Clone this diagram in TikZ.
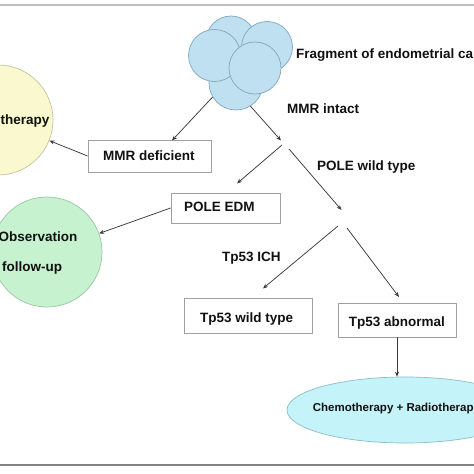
\documentclass[tikz,border=0pt]{standalone}
\usepackage{fontspec}
\setmainfont{Liberation Sans}
\usetikzlibrary{shapes.geometric,arrows.meta,calc}
\definecolor{cellfill}{HTML}{BFE0F0}
\definecolor{celldraw}{HTML}{7FA6C0}
\definecolor{yelfill}{HTML}{FAF8CE}
\definecolor{yeldraw}{HTML}{C4C49A}
\definecolor{grnfill}{HTML}{C6F2D0}
\definecolor{grndraw}{HTML}{98C6A4}
\definecolor{cyfill}{HTML}{C4F3F9}
\definecolor{cydraw}{HTML}{8CBEC6}
\definecolor{boxdraw}{HTML}{A0A0A0}
\definecolor{arrcol}{HTML}{3A3A3A}
\definecolor{txtcol}{HTML}{111111}
\tikzset{
  cell/.style={circle,draw=celldraw,fill=cellfill,line width=0.7pt,inner sep=0pt},
  bigcirc/.style={circle,line width=0.7pt,inner sep=0pt,minimum size=110pt},
  boxnode/.style={rectangle,draw=boxdraw,fill=white,line width=0.8pt,inner sep=0pt},
  lbl/.style={anchor=base west,inner sep=0pt,text=txtcol,font=\fontsize{13.5}{16}\selectfont\bfseries},
  lblsmall/.style={anchor=base west,inner sep=0pt,text=txtcol,font=\fontsize{11.5}{14}\selectfont\bfseries},
  conn/.style={draw=arrcol,line width=0.75pt,-{Stealth[length=5pt,width=4pt]}}
}
\begin{document}
\begin{tikzpicture}[x=1pt,y=-1pt]
\path[use as bounding box] (0,0) rectangle (474,474);
\clip (0,0) rectangle (474,474);
\fill[white] (0,0) rectangle (474,474);
% frame lines
\draw[color={rgb,255:red,190;green,190;blue,190},line width=1.5pt] (0,4.8) -- (474,4.8);
\draw[color={rgb,255:red,130;green,130;blue,130},line width=2pt] (0,464.5) -- (474,464.5);
% cell cluster
\node[cell,minimum size=50pt] (c1) at (231,41) {};
\node[cell,minimum size=54pt] (c2) at (236,83) {};
\node[cell,minimum size=52pt] (c3) at (214.5,55.5) {};
\node[cell,minimum size=51pt] (c4) at (267,47) {};
\node[cell,minimum size=52pt] (c5) at (255,68) {};
\node[lbl] (frag) at (296,58) {Fragment of endometrial ca};
% outcome circles
\node[bigcirc,draw=yeldraw,fill=yelfill] (yellow) at (-2,120) {};
\node[lbl] (ther) at (0.5,124) {therapy};
\node[bigcirc,draw=grndraw,fill=grnfill] (green) at (47,252) {};
\node[lbl] (obs) at (-1.5,241) {Observation};
\node[lbl] (fol) at (2,271.5) {follow-up};
\node[ellipse,draw=cydraw,fill=cyfill,line width=0.7pt,inner sep=0pt,minimum width=236pt,minimum height=66pt] (chemo) at (405,410) {};
\node[lblsmall] (chemotxt) at (312.7,411.5) {Chemotherapy + Radiotherap};
% boxes
\node[boxnode,minimum width=123pt,minimum height=32pt] (mmrdef) at (149.5,156) {};
\node[lbl] (mmrdeftxt) at (103,160) {MMR deficient};
\node[boxnode,minimum width=109pt,minimum height=30pt] (poleedm) at (225.5,208) {};
\node[lbl] (poleedmtxt) at (184,211.7) {POLE EDM};
\node[boxnode,minimum width=128pt,minimum height=35pt] (tpwt) at (248,315.5) {};
\node[lbl] (tpwttxt) at (200,322.7) {Tp53 wild type};
\node[boxnode,minimum width=118pt,minimum height=34pt] (tpab) at (397,320) {};
\node[lbl] (tpabtxt) at (348.7,326.7) {Tp53 abnormal};
% branch labels
\node[lbl] (mmrint) at (287,113) {MMR intact};
\node[lbl] (polewt) at (317,170) {POLE wild type};
\node[lbl] (tpich) at (222,261.7) {Tp53 ICH};
% junction coordinates
\coordinate (t1) at (172,140.5);
\coordinate (j1) at (281,140.5);
\coordinate (s4) at (282,145);
\coordinate (e4) at (237,183.5);
\coordinate (s5) at (289,149);
\coordinate (j2) at (341.5,210);
\coordinate (s7) at (338,226);
\coordinate (e7) at (263,288.5);
\coordinate (s8) at (347,228);
\coordinate (e8) at (399,297);
% connectors
\draw[conn] (c2.211) -- (t1);
\draw[conn] (c2.302) -- (j1);
\draw[conn] (mmrdef.west) -- (yellow);
\draw[conn] (s4) -- (e4);
\draw[conn] (s5) -- (j2);
\draw[conn] (poleedm.west) -- (green);
\draw[conn] (s7) -- (e7);
\draw[conn] (s8) -- (e8);
\draw[conn] (tpab.south) -- (tpab.south |- chemo.north);
\end{tikzpicture}
\end{document}
